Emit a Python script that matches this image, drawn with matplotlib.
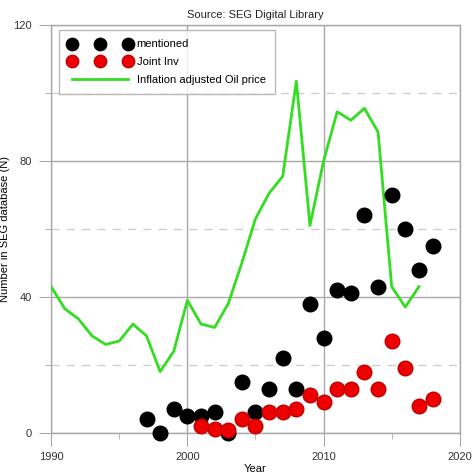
import numpy as np
import matplotlib
matplotlib.use('Agg')
import matplotlib.pyplot as plt
from matplotlib.ticker import MultipleLocator

plt.rcParams['font.family'] = ['Liberation Sans', 'DejaVu Sans']

# data
years_oil = [1990, 1991, 1992, 1993, 1994, 1995, 1996, 1997, 1998, 1999,
             2000, 2001, 2002, 2003, 2004, 2005, 2006, 2007, 2008, 2009,
             2010, 2011, 2012, 2013, 2014, 2015, 2016, 2017]
oil_price = [43, 36.5, 33.5, 28.5, 26, 27, 32, 28.5, 18, 24,
             39, 32, 31, 38, 50, 63, 70.5, 75.5, 103.5, 61,
             80, 94.5, 92, 95.5, 88.5, 43, 37, 43]

years_mentioned = [1997, 1998, 1999, 2000, 2001, 2002, 2003, 2004, 2005, 2006,
                   2007, 2008, 2009, 2010, 2011, 2012, 2013, 2014, 2015, 2016,
                   2017, 2018]
mentioned = [4, 0, 7, 5, 5, 6, 0, 15, 6, 13,
             22, 13, 38, 28, 42, 41, 64, 43, 70, 60,
             48, 55]

years_joint = [2001, 2002, 2003, 2004, 2005, 2006, 2007, 2008, 2009, 2010,
               2011, 2012, 2013, 2014, 2015, 2016, 2017, 2018]
joint_inv = [2, 1, 0.8, 4, 2, 6, 6, 7, 11, 9,
             13, 13, 18, 13, 27, 19, 8, 10]

fig = plt.figure(figsize=(4.74, 4.74), dpi=100)
ax = fig.add_axes([0.108, 0.087, 0.862, 0.86])

gray = '#a8a8a8'
ax.plot(years_mentioned, mentioned, linestyle='none', marker='o', color='black',
        markersize=10.5, label='mentioned', clip_on=False, zorder=4)
ax.plot(years_joint, joint_inv, linestyle='none', marker='o', color='#ee0000',
        markeredgecolor='#c00000', markersize=10.5, label='Joint Inv',
        clip_on=False, zorder=5)
ax.plot(years_oil, oil_price, color='#33dd22', linewidth=2,
        label='Inflation adjusted Oil price', zorder=3)

ax.set_xlim(1990, 2020)
ax.set_ylim(0, 120)
ax.xaxis.set_major_locator(MultipleLocator(10))
ax.xaxis.set_minor_locator(MultipleLocator(5))
ax.yaxis.set_major_locator(MultipleLocator(40))
ax.yaxis.set_minor_locator(MultipleLocator(20))

ax.grid(which='major', color=gray, linestyle='-', linewidth=1)
ax.grid(which='minor', axis='y', color='#cfcfcf', linestyle=(0, (6, 5)), linewidth=1)
ax.set_axisbelow(True)
for s in ax.spines.values():
    s.set_color(gray)
    s.set_linewidth(1)

ax.tick_params(which='major', direction='out', length=9, color=gray,
               labelsize=8, labelcolor='#333333', pad=5)
ax.tick_params(which='minor', direction='out', length=4, color=gray)

ax.set_title('Source: SEG Digital Library', fontsize=8, pad=5, color='#222222')
ax.set_xlabel('Year', fontsize=8, labelpad=1)
ax.set_ylabel('Number in SEG database (N)', fontsize=8, labelpad=2)

leg = ax.legend(loc='upper left', numpoints=3, fontsize=8, frameon=True,
                fancybox=False, edgecolor=gray, borderpad=0.85, borderaxespad=0,
                markerscale=0.85, handlelength=5.6, handletextpad=0.5,
                labelspacing=0.7, bbox_to_anchor=(0.02, 0.988))
leg.get_frame().set_linewidth(1)

fig.savefig('out.png', dpi=100)
